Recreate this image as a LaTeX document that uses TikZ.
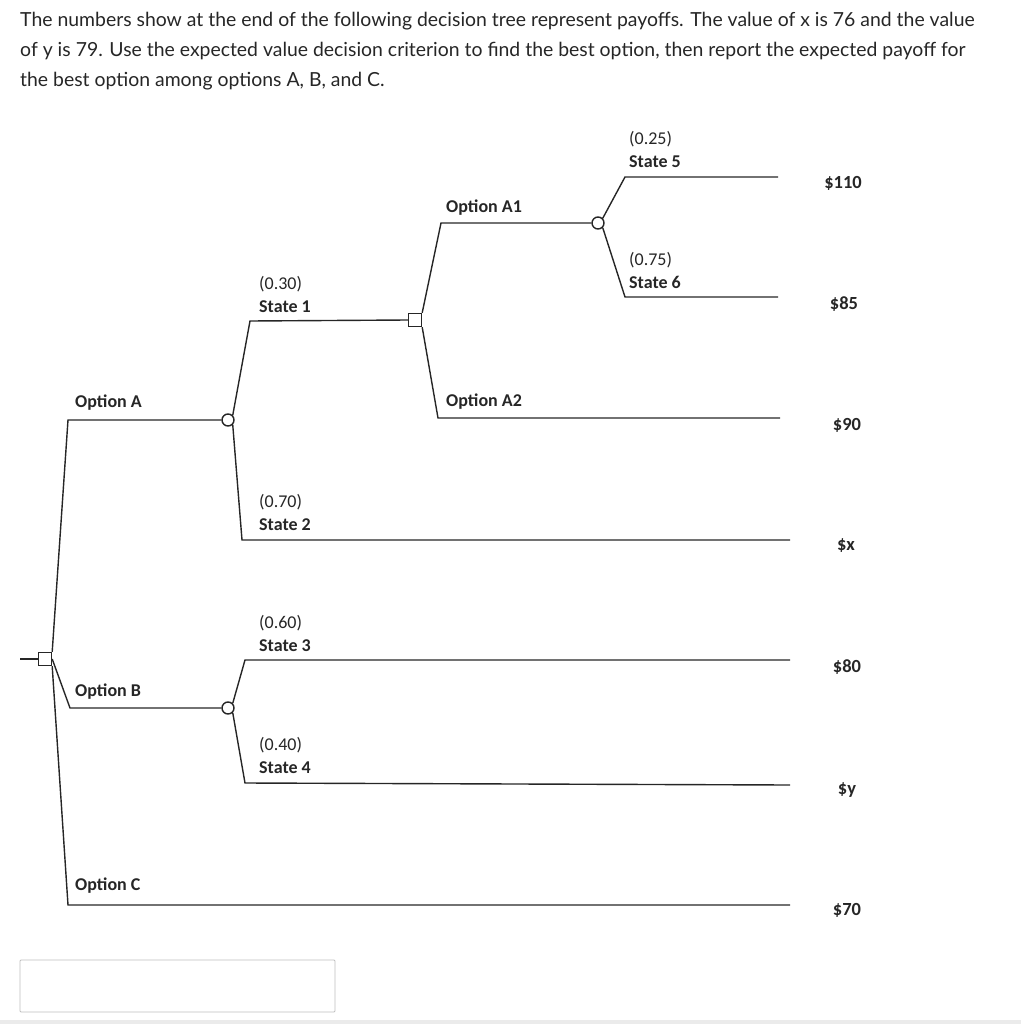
\documentclass[tikz,border=0pt]{standalone}
\usepackage{fontspec}
\setmainfont{Lato}
\newfontfamily\carlitofont{Carlito}
\begin{document}
\begin{tikzpicture}[x=1pt,y=-1pt,
  ln/.style={draw=black!85,line width=1.4pt},
  dec/.style={draw=black!85,line width=1.4pt,fill=white,minimum size=13pt,inner sep=0pt},
  chn/.style={circle,draw=black!85,line width=1.4pt,fill=white,minimum size=12pt,inner sep=0pt},
  lab/.style={font=\carlitofont\bfseries\fontsize{18}{20}\selectfont,anchor=south west,inner sep=1pt,text=black!85},
  prob/.style={font=\carlitofont\fontsize{18}{23}\selectfont,anchor=south west,inner sep=1pt,align=left,text=black!85},
  pay/.style={font=\carlitofont\bfseries\fontsize{18.5}{20}\selectfont,text=black!85}]
\useasboundingbox (0,0) rectangle (1021,1024);
\node[anchor=north west,align=left,font=\fontsize{19.4}{30}\selectfont,text=black!85,inner sep=0pt] (q) at (20,12)
{The numbers show at the end of the following decision tree represent payoffs. The value of x is 76 and the value\\
of y is 79. Use the expected value decision criterion to find the best option, then report the expected payoff for\\
the best option among options A, B, and C.};
% nodes
\node[dec] (r) at (45,659) {};
\coordinate (r0) at (20,659);
\node[chn] (ca) at (228,420) {};
\node[chn] (cb) at (228,708) {};
\node[dec] (d2) at (415,320) {};
\node[chn] (c1) at (598,223) {};
\coordinate (a1) at (68,420); \coordinate (b1) at (70,708); \coordinate (cc1) at (68,905); \coordinate (cc2) at (790,905);
\coordinate (s1) at (250,321); \coordinate (s2) at (242,540); \coordinate (s2e) at (790,540);
\coordinate (s3) at (245,660); \coordinate (s3e) at (790,660);
\coordinate (s4) at (245,783); \coordinate (s4e) at (790,785);
\coordinate (o1) at (441,223); \coordinate (o2) at (438,418); \coordinate (o2e) at (780,418);
\coordinate (s5) at (625,177); \coordinate (s5e) at (778,177);
\coordinate (s6) at (625,297); \coordinate (s6e) at (778,297);
\draw[ln] (r0) -- (r.west);
\draw[ln] (r.north east) -- (a1) -- (ca.west);
\draw[ln] (r.east) -- (b1) -- (cb.west);
\draw[ln] (r.south east) -- (cc1) -- (cc2);
\draw[ln] (ca.north east) -- (s1) -- (d2.west);
\draw[ln] (ca.south east) -- (s2) -- (s2e);
\draw[ln] (cb.north east) -- (s3) -- (s3e);
\draw[ln] (cb.south east) -- (s4) -- (s4e);
\draw[ln] (d2.north east) -- (o1) -- (c1.west);
\draw[ln] (d2.south east) -- (o2) -- (o2e);
\draw[ln] (c1.north east) -- (s5) -- (s5e);
\draw[ln] (c1.south east) -- (s6) -- (s6e);
% labels
\node[lab] (la) at (74,412) {Option A};
\node[lab] (lb) at (74,701) {Option B};
\node[lab] (lc) at (74,895) {Option C};
\node[lab] (la1) at (445,217) {Option A1};
\node[lab] (la2) at (445,411) {Option A2};
\node[prob] (p1) at (258,314) {(0.30)\\\textbf{State 1}};
\node[prob] (p2) at (258,532) {(0.70)\\\textbf{State 2}};
\node[prob] (p3) at (258,653) {(0.60)\\\textbf{State 3}};
\node[prob] (p4) at (258,775) {(0.40)\\\textbf{State 4}};
\node[prob] (p5) at (628,169) {(0.25)\\\textbf{State 5}};
\node[prob] (p6) at (628,290) {(0.75)\\\textbf{State 6}};
\node[pay] (v1) at (843,183) {\$110};
\node[pay] (v2) at (844,304) {\$85};
\node[pay] (v3) at (847,425) {\$90};
\node[pay] (v4) at (846,546) {\$x};
\node[pay] (v5) at (847,667) {\$80};
\node[pay] (v6) at (847,790) {\$y};
\node[pay] (v7) at (847,910) {\$70};
\draw[black!25,line width=0.8pt,rounded corners=1pt] (20,960) rectangle (335,1012);
\fill[black!8] (0,1020) rectangle (1021,1024);
\end{tikzpicture}
\end{document}
